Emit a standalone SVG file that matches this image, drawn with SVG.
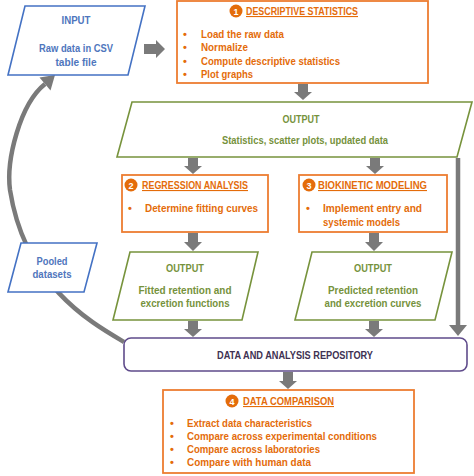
<svg xmlns="http://www.w3.org/2000/svg" width="474" height="476" viewBox="0 0 474 476">
<style>
text{font-family:"Liberation Sans",Arial,sans-serif;font-weight:bold;font-size:11px}
.bl{fill:#4f76bd}
.gr{fill:#76923c}
.or{fill:#e46c0a}
.pu{fill:#403152}
.c{text-anchor:middle}
.ul{text-decoration:underline}
.bbox{fill:#fff;stroke:#4472c4;stroke-width:1.6}
.gbox{fill:#fff;stroke:#77933c;stroke-width:1.6}
.obox{fill:#fff;stroke:#ed7d31;stroke-width:1.8}
.pbox{fill:#fff;stroke:#5f4b8b;stroke-width:1.6}
.arr{fill:#7a7a7a}
.num{fill:#e46c0a}
.nt{fill:#fff;font-size:9px;text-anchor:middle}
</style>
<rect width="474" height="476" fill="#fff"/>
<g id="connectors">
<path d="M124,342 C90,322 25,285 10,190 C6,160 20,104 45,84" fill="none" stroke="#7a7a7a" stroke-width="4.5"/>
<polygon class="arr" points="55,75 50.5,90.5 39.5,77.5"/>
<path class="arr" d="M144,44 H156 V40 L165,49 L156,58 V54 H144 Z"/>
<path class="arr" d="M298,84 H308 V92 H312 L303,100 L294,92 H298 Z"/>
<path class="arr" d="M188,158 H198 V166 H202 L193,174 L184,166 H188 Z"/>
<path class="arr" d="M370,158 H380 V166 H384 L375,174 L366,166 H370 Z"/>
<path class="arr" d="M188,233 H198 V242 H202 L193,251 L184,242 H188 Z"/>
<path class="arr" d="M369,233 H379 V242 H383 L374,251 L365,242 H369 Z"/>
<path class="arr" d="M188,321 H198 V329 H202 L193,337 L184,329 H188 Z"/>
<path class="arr" d="M369,321 H379 V329 H383 L374,337 L365,329 H369 Z"/>
<path class="arr" d="M283,372 H293 V381 H297 L288,389 L279,381 H283 Z"/>
<line x1="458" y1="158" x2="458" y2="326" stroke="#7a7a7a" stroke-width="4.5"/>
<polygon class="arr" points="449,325 467,325 458,336"/>
</g>
<g id="input">
<polygon class="bbox" points="25,6 145,6 128,75 8,75"/>
<text class="bl c" x="76" y="24" textLength="29" lengthAdjust="spacingAndGlyphs">INPUT</text>
<text class="bl c" x="76" y="52" textLength="74" lengthAdjust="spacingAndGlyphs">Raw data in CSV</text>
<text class="bl c" x="76" y="66" textLength="41" lengthAdjust="spacingAndGlyphs">table file</text>
</g>
<g id="descriptive-statistics">
<rect class="obox" x="177" y="1" width="251" height="82"/>
<circle class="num" cx="236" cy="11" r="6.5"/>
<text class="nt" x="236" y="14.5">1</text>
<text class="or ul" x="246" y="15" textLength="112" lengthAdjust="spacingAndGlyphs">DESCRIPTIVE STATISTICS</text>
<text class="or" x="183" y="38">•</text>
<text class="or" x="183" y="51">•</text>
<text class="or" x="183" y="65">•</text>
<text class="or" x="183" y="78">•</text>
<text class="or" x="201" y="38" textLength="83" lengthAdjust="spacingAndGlyphs">Load the raw data</text>
<text class="or" x="201" y="51" textLength="47" lengthAdjust="spacingAndGlyphs">Normalize</text>
<text class="or" x="201" y="65" textLength="139" lengthAdjust="spacingAndGlyphs">Compute descriptive statistics</text>
<text class="or" x="201" y="78" textLength="52" lengthAdjust="spacingAndGlyphs">Plot graphs</text>
</g>
<g id="output-main">
<polygon class="gbox" points="132,102 472,102 457,157 117,157"/>
<text class="gr c" x="301" y="123" textLength="37" lengthAdjust="spacingAndGlyphs">OUTPUT</text>
<text class="gr c" x="305" y="144" textLength="166" lengthAdjust="spacingAndGlyphs">Statistics, scatter plots, updated data</text>
</g>
<g id="regression-analysis">
<rect class="obox" x="122" y="175" width="146" height="57"/>
<circle class="num" cx="131" cy="185" r="6.5"/>
<text class="nt" x="131" y="188.5">2</text>
<text class="or ul" x="142" y="189" textLength="106" lengthAdjust="spacingAndGlyphs">REGRESSION ANALYSIS</text>
<text class="or" x="128" y="212">•</text>
<text class="or" x="145" y="212" textLength="113" lengthAdjust="spacingAndGlyphs">Determine fitting curves</text>
</g>
<g id="biokinetic-modeling">
<rect class="obox" x="299" y="175" width="148" height="57"/>
<circle class="num" cx="309" cy="185" r="6.5"/>
<text class="nt" x="309" y="188.5">3</text>
<text class="or ul" x="318" y="189" textLength="109" lengthAdjust="spacingAndGlyphs">BIOKINETIC MODELING</text>
<text class="or" x="306" y="212">•</text>
<text class="or" x="323" y="212" textLength="99" lengthAdjust="spacingAndGlyphs">Implement entry and</text>
<text class="or" x="323" y="226" textLength="77" lengthAdjust="spacingAndGlyphs">systemic models</text>
</g>
<g id="output-regression">
<polygon class="gbox" points="130,252 258,252 242,320 113,320"/>
<text class="gr c" x="185" y="272" textLength="38" lengthAdjust="spacingAndGlyphs">OUTPUT</text>
<text class="gr c" x="185" y="294" textLength="93" lengthAdjust="spacingAndGlyphs">Fitted retention and</text>
<text class="gr c" x="185" y="307" textLength="89" lengthAdjust="spacingAndGlyphs">excretion functions</text>
</g>
<g id="output-biokinetic">
<polygon class="gbox" points="312,252 452,252 435,320 295,320"/>
<text class="gr c" x="373" y="272" textLength="38" lengthAdjust="spacingAndGlyphs">OUTPUT</text>
<text class="gr c" x="373" y="294" textLength="90" lengthAdjust="spacingAndGlyphs">Predicted retention</text>
<text class="gr c" x="373" y="307" textLength="97" lengthAdjust="spacingAndGlyphs">and excretion curves</text>
</g>
<g id="pooled-datasets">
<polygon class="bbox" points="21,243 97,243 84,292 8,292"/>
<text class="bl c" x="52" y="265" textLength="31" lengthAdjust="spacingAndGlyphs">Pooled</text>
<text class="bl c" x="52" y="278" textLength="39" lengthAdjust="spacingAndGlyphs">datasets</text>
</g>
<g id="repository">
<rect class="pbox" x="124" y="338" width="343" height="33" rx="7"/>
<text class="pu c" x="295" y="359" textLength="156" lengthAdjust="spacingAndGlyphs">DATA AND ANALYSIS REPOSITORY</text>
</g>
<g id="data-comparison">
<rect class="obox" x="163" y="390" width="251" height="83"/>
<circle class="num" cx="232" cy="401" r="6.5"/>
<text class="nt" x="232" y="404.5">4</text>
<text class="or ul" x="243" y="405" textLength="91" lengthAdjust="spacingAndGlyphs">DATA COMPARISON</text>
<text class="or" x="170" y="427">•</text>
<text class="or" x="170" y="440">•</text>
<text class="or" x="170" y="453">•</text>
<text class="or" x="170" y="466">•</text>
<text class="or" x="187" y="427" textLength="125" lengthAdjust="spacingAndGlyphs">Extract data characteristics</text>
<text class="or" x="187" y="440" textLength="190" lengthAdjust="spacingAndGlyphs">Compare across experimental conditions</text>
<text class="or" x="187" y="453" textLength="133" lengthAdjust="spacingAndGlyphs">Compare across laboratories</text>
<text class="or" x="187" y="466" textLength="124" lengthAdjust="spacingAndGlyphs">Compare with human data</text>
</g>
</svg>
